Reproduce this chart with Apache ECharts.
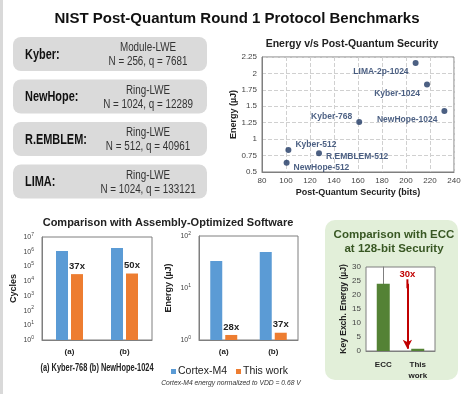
<!DOCTYPE html>
<html>
<head>
<meta charset="utf-8">
<script src="https://cdn.jsdelivr.net/npm/echarts@6/dist/echarts.min.js"></script>
<style>
  html, body { margin: 0; padding: 0; background: #fff; }
  #chart { width: 474px; height: 397px; }
</style>
</head>
<body>
<div id="chart"></div>
<script>
// protocol boxes
const schemes = ['Kyber:', 'NewHope:', 'R.EMBLEM:', 'LIMA:'];
const schemeTypes = ['Module-LWE', 'Ring-LWE', 'Ring-LWE', 'Ring-LWE'];
const schemeParams = ['N = 256, q = 7681', 'N = 1024, q = 12289', 'N = 512, q = 40961', 'N = 1024, q = 133121'];

// energy vs security scatter
const protoNames = ['LIMA-2p-1024', 'Kyber-1024', 'NewHope-1024', 'Kyber-768', 'Kyber-512', 'R.EMBLEM-512', 'NewHope-512'];
const securityBits = [208, 217.5, 232, 161, 102, 127.5, 100.5];
const energyUJ = [2.16, 1.83, 1.43, 1.26, 0.835, 0.785, 0.64];

// assembly-optimized comparison
const asmCats = ['(a)', '(b)'];
const m4Cycles = [1.1e6, 1.8e6];
const oursCycles = [3.0e4, 3.3e4];
const cycleRatios = ['37x', '50x'];
const m4Energy = [33, 49];
const oursEnergy = [1.25, 1.38];
const energyRatios = ['28x', '37x'];

// ECC comparison
const eccCats = ['ECC', 'This\nwork'];
const eccEnergy = [24, 0.8];
const eccRatio = '30x';
const arrowPos = 0.7; // between the two bars

const FONT = 'Liberation Sans';
const BLUE = '#5b9bd5', ORANGE = '#ed7d31', NAVY = '#1f3864', GREEN = '#548235', RED = '#c00000';

const chart = echarts.init(document.getElementById('chart'));

const graphics = [
  { type: 'rect', left: 0, top: 0, shape: { width: 3, height: 394 }, style: { fill: '#d9d9d9' } },
  { type: 'rect', left: 325, top: 220, shape: { width: 133, height: 160, r: 10 }, style: { fill: '#e2efd9' }, z: -1 }
];
schemes.forEach((s, i) => {
  const top = 37 + i * 42.5;
  graphics.push({ type: 'rect', left: 13, top: top, shape: { width: 194, height: 34, r: 8 }, style: { fill: '#dadada' }, z: -1 });
  graphics.push({ type: 'text', x: 25, y: top + 18, scaleX: 0.78, style: { text: s, font: 'bold 14px ' + FONT, fill: '#111', verticalAlign: 'middle' } });
  graphics.push({ type: 'text', x: 148, y: top + 11, scaleX: 0.82, style: { text: schemeTypes[i], font: '12px ' + FONT, fill: '#333', align: 'center', verticalAlign: 'middle' } });
  graphics.push({ type: 'text', x: 148, y: top + 25, scaleX: 0.82, style: { text: schemeParams[i], font: '12px ' + FONT, fill: '#333', align: 'center', verticalAlign: 'middle' } });
});
graphics.push({
  type: 'text', x: 97, y: 368, scaleX: 0.74,
  style: { text: '(a) Kyber-768 (b) NewHope-1024', font: 'bold 10px ' + FONT, fill: '#222', align: 'center', verticalAlign: 'middle' }
});
graphics.push({
  type: 'text', x: 231, y: 383, scaleX: 0.9,
  style: { text: 'Cortex-M4 energy normalized to VDD = 0.68 V', font: 'italic 7.5px ' + FONT, fill: '#333', align: 'center', verticalAlign: 'middle' }
});

const scatterPos = [
  { position: 'left', offset: [0, 9] },
  { position: 'left', offset: [0, 9] },
  { position: 'left', offset: [0, 9] },
  { position: 'left', offset: [0, -5] },
  { position: 'right', offset: [0, -5] },
  { position: 'right', offset: [0, 3] },
  { position: 'right', offset: [0, 5] }
];

const logLabel = {
  fontSize: 7, color: '#444',
  formatter: v => '10{e|' + Math.round(Math.log10(v)) + '}',
  rich: { e: { fontSize: 5, color: '#444', verticalAlign: 'top', padding: [0, 0, 5, 0] } }
};
const boxAxis = { show: true, lineStyle: { color: '#7f7f7f', width: 1 } };
const catLabel = { fontSize: 8, fontWeight: 'bold', color: '#222', margin: 8 };
const axisName = { fontSize: 9, fontWeight: 'bold', color: '#222' };

const option = {
  animation: false,
  textStyle: { fontFamily: FONT },
  graphic: graphics,
  title: [
    { text: 'NIST Post-Quantum Round 1 Protocol Benchmarks', left: 'center', top: 6, textStyle: { fontSize: 15, fontWeight: 'bold', color: '#111', fontFamily: FONT } },
    { text: 'Energy v/s Post-Quantum Security', left: 347, textAlign: 'center', top: 34, textStyle: { fontSize: 10.5, fontWeight: 'bold', color: '#222', fontFamily: FONT } },
    { text: 'Comparison with Assembly-Optimized Software', left: 163, textAlign: 'center', top: 212, textStyle: { fontSize: 11, fontWeight: 'bold', color: '#222', fontFamily: FONT } },
    { text: 'Comparison with ECC\nat 128-bit Security', left: 389, textAlign: 'center', top: 223, textStyle: { fontSize: 11.5, fontWeight: 'bold', color: '#385723', lineHeight: 14, fontFamily: FONT } }
  ],
  legend: {
    data: ['Cortex-M4', 'This work'], left: 166, top: 361, icon: 'rect', itemWidth: 5, itemHeight: 5, itemGap: 9,
    textStyle: { fontSize: 10.5, color: '#222', padding: [0, 0, 0, -3] }
  },
  grid: [
    { left: 262, right: 20, top: 57, bottom: 225, show: true, borderColor: '#7f7f7f', borderWidth: 1 },
    { left: 42, right: 322, top: 237, bottom: 57, show: true, borderColor: '#7f7f7f', borderWidth: 1 },
    { left: 199, right: 176, top: 236, bottom: 57, show: true, borderColor: '#7f7f7f', borderWidth: 1 },
    { left: 366, right: 39, top: 267, bottom: 46, show: true, borderColor: '#7f7f7f', borderWidth: 1, backgroundColor: '#fff' }
  ],
  xAxis: [
    {
      gridIndex: 0, type: 'value', min: 80, max: 240, interval: 20,
      axisLine: boxAxis, axisTick: { show: false },
      axisLabel: { fontSize: 8, color: '#444', margin: 5 },
      splitLine: { show: true, lineStyle: { type: 'dashed', color: '#d0d0d0' } },
      name: 'Post-Quantum Security (bits)', nameLocation: 'middle', nameGap: 16, nameTextStyle: axisName
    },
    { gridIndex: 1, type: 'category', data: asmCats, axisLine: boxAxis, axisTick: { show: false }, axisLabel: catLabel },
    { gridIndex: 2, type: 'category', data: asmCats, axisLine: boxAxis, axisTick: { show: false }, axisLabel: catLabel },
    { gridIndex: 3, type: 'category', data: eccCats, axisLine: boxAxis, axisTick: { show: false }, axisLabel: Object.assign({}, catLabel, { lineHeight: 11 }) },
    { gridIndex: 3, type: 'value', min: -0.5, max: 1.5, show: false }
  ],
  yAxis: [
    {
      gridIndex: 0, type: 'value', min: 0.5, max: 2.25, interval: 0.25,
      axisLine: boxAxis, axisTick: { show: false },
      axisLabel: { fontSize: 8, color: '#444', margin: 5 },
      splitLine: { show: true, lineStyle: { type: 'dashed', color: '#d0d0d0' } },
      name: 'Energy (µJ)', nameLocation: 'middle', nameGap: 19, nameTextStyle: axisName
    },
    {
      gridIndex: 1, type: 'log', logBase: 10, min: 1, max: 1e7,
      axisLine: boxAxis, axisTick: { show: false }, splitLine: { show: false },
      axisLabel: logLabel,
      name: 'Cycles', nameLocation: 'middle', nameGap: 24, nameTextStyle: axisName
    },
    {
      gridIndex: 2, type: 'log', logBase: 10, min: 1, max: 100,
      axisLine: boxAxis, axisTick: { show: false }, splitLine: { show: false },
      axisLabel: logLabel,
      name: 'Energy (µJ)', nameLocation: 'middle', nameGap: 26, nameTextStyle: axisName
    },
    {
      gridIndex: 3, type: 'value', min: 0, max: 30, interval: 5,
      axisLine: boxAxis, axisTick: { show: false }, splitLine: { show: false },
      axisLabel: { fontSize: 8, color: '#444', margin: 5 },
      name: 'Key Exch. Energy (µJ)', nameLocation: 'middle', nameGap: 15,
      nameTextStyle: { fontSize: 8.5, fontWeight: 'bold', color: '#222' }
    }
  ],
  series: [
    {
      type: 'scatter', xAxisIndex: 0, yAxisIndex: 0, symbolSize: 6,
      itemStyle: { color: NAVY },
      data: securityBits.map((x, i) => ({
        value: [x, energyUJ[i]],
        label: Object.assign({ show: true, formatter: protoNames[i], fontSize: 8.5, fontWeight: 'bold', color: NAVY, distance: 4 }, scatterPos[i])
      }))
    },
    {
      name: 'Cortex-M4', type: 'bar', xAxisIndex: 1, yAxisIndex: 1, data: m4Cycles,
      barWidth: 12, barGap: '25%', itemStyle: { color: BLUE }
    },
    {
      name: 'This work', type: 'bar', xAxisIndex: 1, yAxisIndex: 1, data: oursCycles,
      barWidth: 12, barGap: '25%', itemStyle: { color: ORANGE },
      label: { show: true, position: 'top', formatter: p => cycleRatios[p.dataIndex], fontSize: 9.5, fontWeight: 'bold', color: '#222', distance: 3 }
    },
    {
      name: 'Cortex-M4', type: 'bar', xAxisIndex: 2, yAxisIndex: 2, data: m4Energy,
      barWidth: 12, barGap: '25%', itemStyle: { color: BLUE }
    },
    {
      name: 'This work', type: 'bar', xAxisIndex: 2, yAxisIndex: 2, data: oursEnergy,
      barWidth: 12, barGap: '25%', itemStyle: { color: ORANGE },
      label: { show: true, position: 'top', formatter: p => energyRatios[p.dataIndex], fontSize: 9.5, fontWeight: 'bold', color: '#222', distance: 3 }
    },
    {
      type: 'bar', xAxisIndex: 3, yAxisIndex: 3, data: eccEnergy, barWidth: 13,
      itemStyle: { color: GREEN }
    },
    {
      type: 'scatter', xAxisIndex: 4, yAxisIndex: 3, symbolSize: 0, silent: true,
      data: [[arrowPos, eccEnergy[0]]],
      markLine: {
        silent: true, animation: false,
        lineStyle: { color: RED, width: 2, type: 'solid' },
        label: { show: true, position: 'start', formatter: eccRatio, color: RED, fontSize: 9.5, fontWeight: 'bold', distance: 4 },
        data: [[
          { coord: [arrowPos, eccEnergy[0]], symbol: 'rect', symbolSize: [2, 9] },
          { coord: [arrowPos, eccEnergy[1]], symbol: 'arrow', symbolSize: [7, 9] }
        ]]
      }
    }
  ]
};

chart.setOption(option);
</script>
</body>
</html>
